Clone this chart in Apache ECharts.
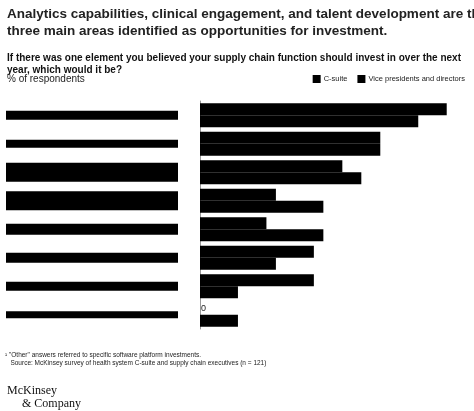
<!DOCTYPE html>
<html><head><meta charset="utf-8">
<script src="https://cdn.jsdelivr.net/npm/echarts@6/dist/echarts.min.js"></script>
<style>html,body{margin:0;padding:0;background:#fff}#c{width:474px;height:411px}</style>
</head><body><div id="c"></div>
<script>
var categories = ['Analytics capabilities','Clinical engagement','Talent development','Category 4','Category 5','Category 6','Category 7','Other¹'];
var labelBoxHeights = [9, 8, 19, 19, 11, 10, 9, 7];
var cSuite = [26, 19, 15, 8, 7, 12, 12, 0];
var vpDirectors = [23, 19, 17, 13, 13, 8, 4, 4];

var rich = {};
labelBoxHeights.forEach(function(h, i){
  rich['b'+i] = {width:172, height:h, backgroundColor:'#000', color:'#000', fontSize:1, lineHeight:h};
});
var chart = echarts.init(document.getElementById('c'));
var ff = 'Liberation Sans, Arial, sans-serif';
chart.setOption({
  animation:false,
  textStyle:{fontFamily:ff},
  title:[
    {text:'Analytics capabilities, clinical engagement, and talent development are the\nthree main areas identified as opportunities for investment.', left:2, top:1,
     textStyle:{fontSize:13.5, fontWeight:'bold', color:'#222', lineHeight:17, fontFamily:ff}},
    {text:'If there was one element you believed your supply chain function should invest in over the next\nyear, which would it be?', left:2, top:47,
     textStyle:{fontSize:10, fontWeight:'bold', color:'#111', lineHeight:12, fontFamily:ff}},
    {text:'% of respondents', left:2, top:69, textStyle:{fontSize:10, fontWeight:'normal', color:'#222', fontFamily:ff}},
    {text:'¹ "Other" answers referred to specific software platform investments.\n   Source: McKinsey survey of health system C-suite and supply chain executives (n = 121)', left:0, top:346,
     textStyle:{fontSize:6.5, fontWeight:'normal', color:'#222', lineHeight:8, fontFamily:ff}},
    {text:'McKinsey\n     & Company', left:2, top:379, textStyle:{fontSize:12, fontWeight:'normal', color:'#111', lineHeight:13, fontFamily:'Liberation Serif, serif'}}
  ],
  legend:{right:4, top:70, itemWidth:8, itemHeight:8, itemGap:10, icon:'rect',
    textStyle:{fontSize:7.5, color:'#222', padding:[0,0,0,-2]}, data:['C-suite','Vice presidents and directors']},
  grid:{left:200, top:101, width:260, height:228, containLabel:false},
  xAxis:{type:'value', min:0, max:27.4, show:false},
  yAxis:{type:'category', data:categories, inverse:true,
    axisLine:{show:true, lineStyle:{color:'#999', width:1}}, axisTick:{show:false},
    axisLabel:{align:'left', margin:194, formatter:function(v, i){return '{b'+i+'|'+v+'}';}, rich:rich}},
  series:[
    {name:'C-suite', type:'bar', data:cSuite, barWidth:12, barGap:'0%', itemStyle:{color:'#000'},
     label:{show:true, position:'insideLeft', offset:[-4,0], color:'#222', fontSize:9,
       formatter:function(p){return p.value===0?'0':'';}}},
    {name:'Vice presidents and directors', type:'bar', data:vpDirectors, barWidth:12, barGap:'0%', itemStyle:{color:'#000'}}
  ]
});
</script></body></html>
